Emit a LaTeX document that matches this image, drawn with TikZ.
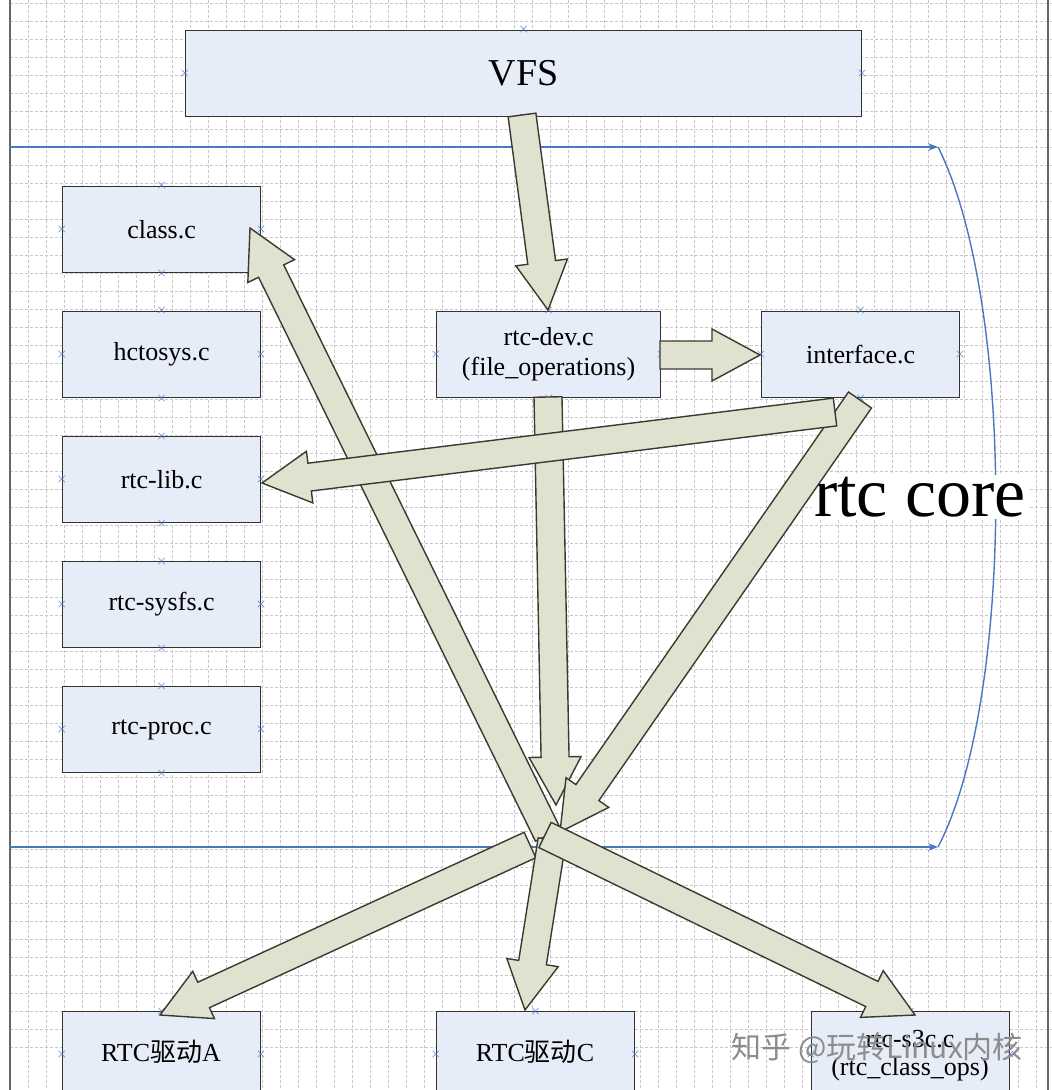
\documentclass[tikz,border=0pt]{standalone}
\usepackage{fontspec}
\setmainfont{Liberation Serif}
\newfontfamily\cjk{Noto Sans CJK SC}
\usetikzlibrary{calc,arrows.meta}
\definecolor{boxfill}{HTML}{E6ECF8}
\definecolor{arrfill}{HTML}{DFE2CF}
\definecolor{arrline}{HTML}{3A3A30}
\definecolor{guide}{HTML}{4A78C0}
\tikzset{
  box/.style={draw=black!80, fill=boxfill, line width=0.6pt, inner sep=0pt, anchor=north west, align=center, font=\fontsize{13}{15}\selectfont},
  blk/.style={fill=arrfill, draw=arrline, line width=0.7pt, line join=miter},
  xm/.style={text=guide, font=\fontsize{6}{6}\selectfont, inner sep=0pt},
  gridl/.style={black!22, line width=0.3pt, dash pattern=on 1.5pt off 1pt}
}
\newcommand\barrow[2]{%
  \path ($(#2)!24pt!(#1)$) coordinate (h);
  \filldraw[blk] ($(#1)!7pt!-90:(#2)$) -- ($(h)!7pt!90:(#1)$) -- ($(h)!13pt!90:(#1)$) -- (#2)
    -- ($(h)!13pt!-90:(#1)$) -- ($(h)!7pt!-90:(#1)$) -- ($(#1)!7pt!90:(#2)$) -- cycle;}
\begin{document}
\begin{tikzpicture}[x=0.5pt,y=-0.5pt]
\useasboundingbox (0,0) rectangle (1052,1090);
\clip (0,0) rectangle (1052,1090);
\fill[white] (0,0) rectangle (1052,1090);
\foreach \i in {0,...,58}{
  \draw[gridl] (10+18*\i,0) -- (10+18*\i,1090);
  \draw[gridl] (10,3+18*\i) -- (1052,3+18*\i);}
\draw[black!60, line width=0.6pt] (10,0) -- (10,1090);
\draw[black!60, line width=0.6pt] (1048,0) -- (1048,1090);
% boxes
\node[box, minimum width=338pt, minimum height=43pt, font=\fontsize{19}{21}\selectfont] (vfs) at (185,30) {VFS};
\node[box, minimum width=99pt, minimum height=43pt] (class) at (62,186) {class.c};
\node[box, minimum width=99pt, minimum height=43pt] (hct) at (62,311) {hctosys.c};
\node[box, minimum width=99pt, minimum height=43pt] (lib) at (62,436) {rtc-lib.c};
\node[box, minimum width=99pt, minimum height=43pt] (sysfs) at (62,561) {rtc-sysfs.c};
\node[box, minimum width=99pt, minimum height=43pt] (proc) at (62,686) {rtc-proc.c};
\node[box, minimum width=112pt, minimum height=43pt] (dev) at (436,311) {rtc-dev.c\\(file\_operations)};
\node[box, minimum width=99pt, minimum height=43pt] (intf) at (761,311) {interface.c};
\node[box, minimum width=99pt, minimum height=43pt] (da) at (62,1011) {};
\node[box, minimum width=99pt, minimum height=43pt] (dc) at (436,1011) {};
\node[box, minimum width=99pt, minimum height=43pt] (s3c) at (811,1011) {};
\node[font=\fontsize{13}{15}\selectfont] (tda) at (161,1052) {RTC{\cjk 驱动}A};
\node[font=\fontsize{13}{15}\selectfont] (tdc) at (535,1052) {RTC{\cjk 驱动}C};
\node[font=\fontsize{13}{14}\selectfont, align=center] (ts3c) at (910,1056) {rtc-s3c.c\\(rtc\_class\_ops)};
\foreach \n in {vfs,class,hct,lib,sysfs,proc,dev,intf,da,dc,s3c}{
  \foreach \a in {north,south,east,west}{\node[xm] at (\n.\a) {$\times$};}}
% guide lines
\coordinate (g1a) at (10,147); \coordinate (g1b) at (938,147);
\coordinate (g2a) at (10,847); \coordinate (g2b) at (938,847);
\draw[guide, line width=0.7pt, -{Stealth[length=5pt]}] (g1a) -- (g1b);
\draw[guide, line width=0.7pt, -{Stealth[length=5pt]}] (g2a) -- (g2b);
\draw[guide, line width=0.7pt] (g1b) .. controls (1015,300) and (1015,700) .. (g2b);
\node[fill=white, inner sep=1pt, font=\fontsize{35}{37}\selectfont] (core) at (920,497) {rtc core};
% arrows
\coordinate (a1s) at (522,115); \coordinate (a1e) at (548,310);
\coordinate (a2s) at (660,355); \coordinate (a2e) at (760,355);
\coordinate (a3s) at (835,412); \coordinate (a3e) at (262,483);
\coordinate (a4s) at (548,397); \coordinate (a4e) at (556,805);
\coordinate (a5s) at (860,400); \coordinate (a5e) at (560,832);
\coordinate (hub) at (548,835);
\coordinate (a6e) at (250,228);
\coordinate (a7s) at (530,845); \coordinate (a7e) at (160,1015);
\coordinate (a8s) at (552,840); \coordinate (a8e) at (525,1010);
\coordinate (a9s) at (545,835); \coordinate (a9e) at (915,1015);
\barrow{a1s}{a1e}
\barrow{a2s}{a2e}
\barrow{a4s}{a4e}
\barrow{hub}{a6e}
\barrow{a5s}{a5e}
\barrow{a3s}{a3e}
\barrow{a7s}{a7e}
\barrow{a8s}{a8e}
\barrow{a9s}{a9e}
\node[text=black!45, font=\cjk\fontsize{15}{17}\selectfont, anchor=east] (wm) at (1030,1048) {知乎 @玩转Linux内核};
\end{tikzpicture}
\end{document}
